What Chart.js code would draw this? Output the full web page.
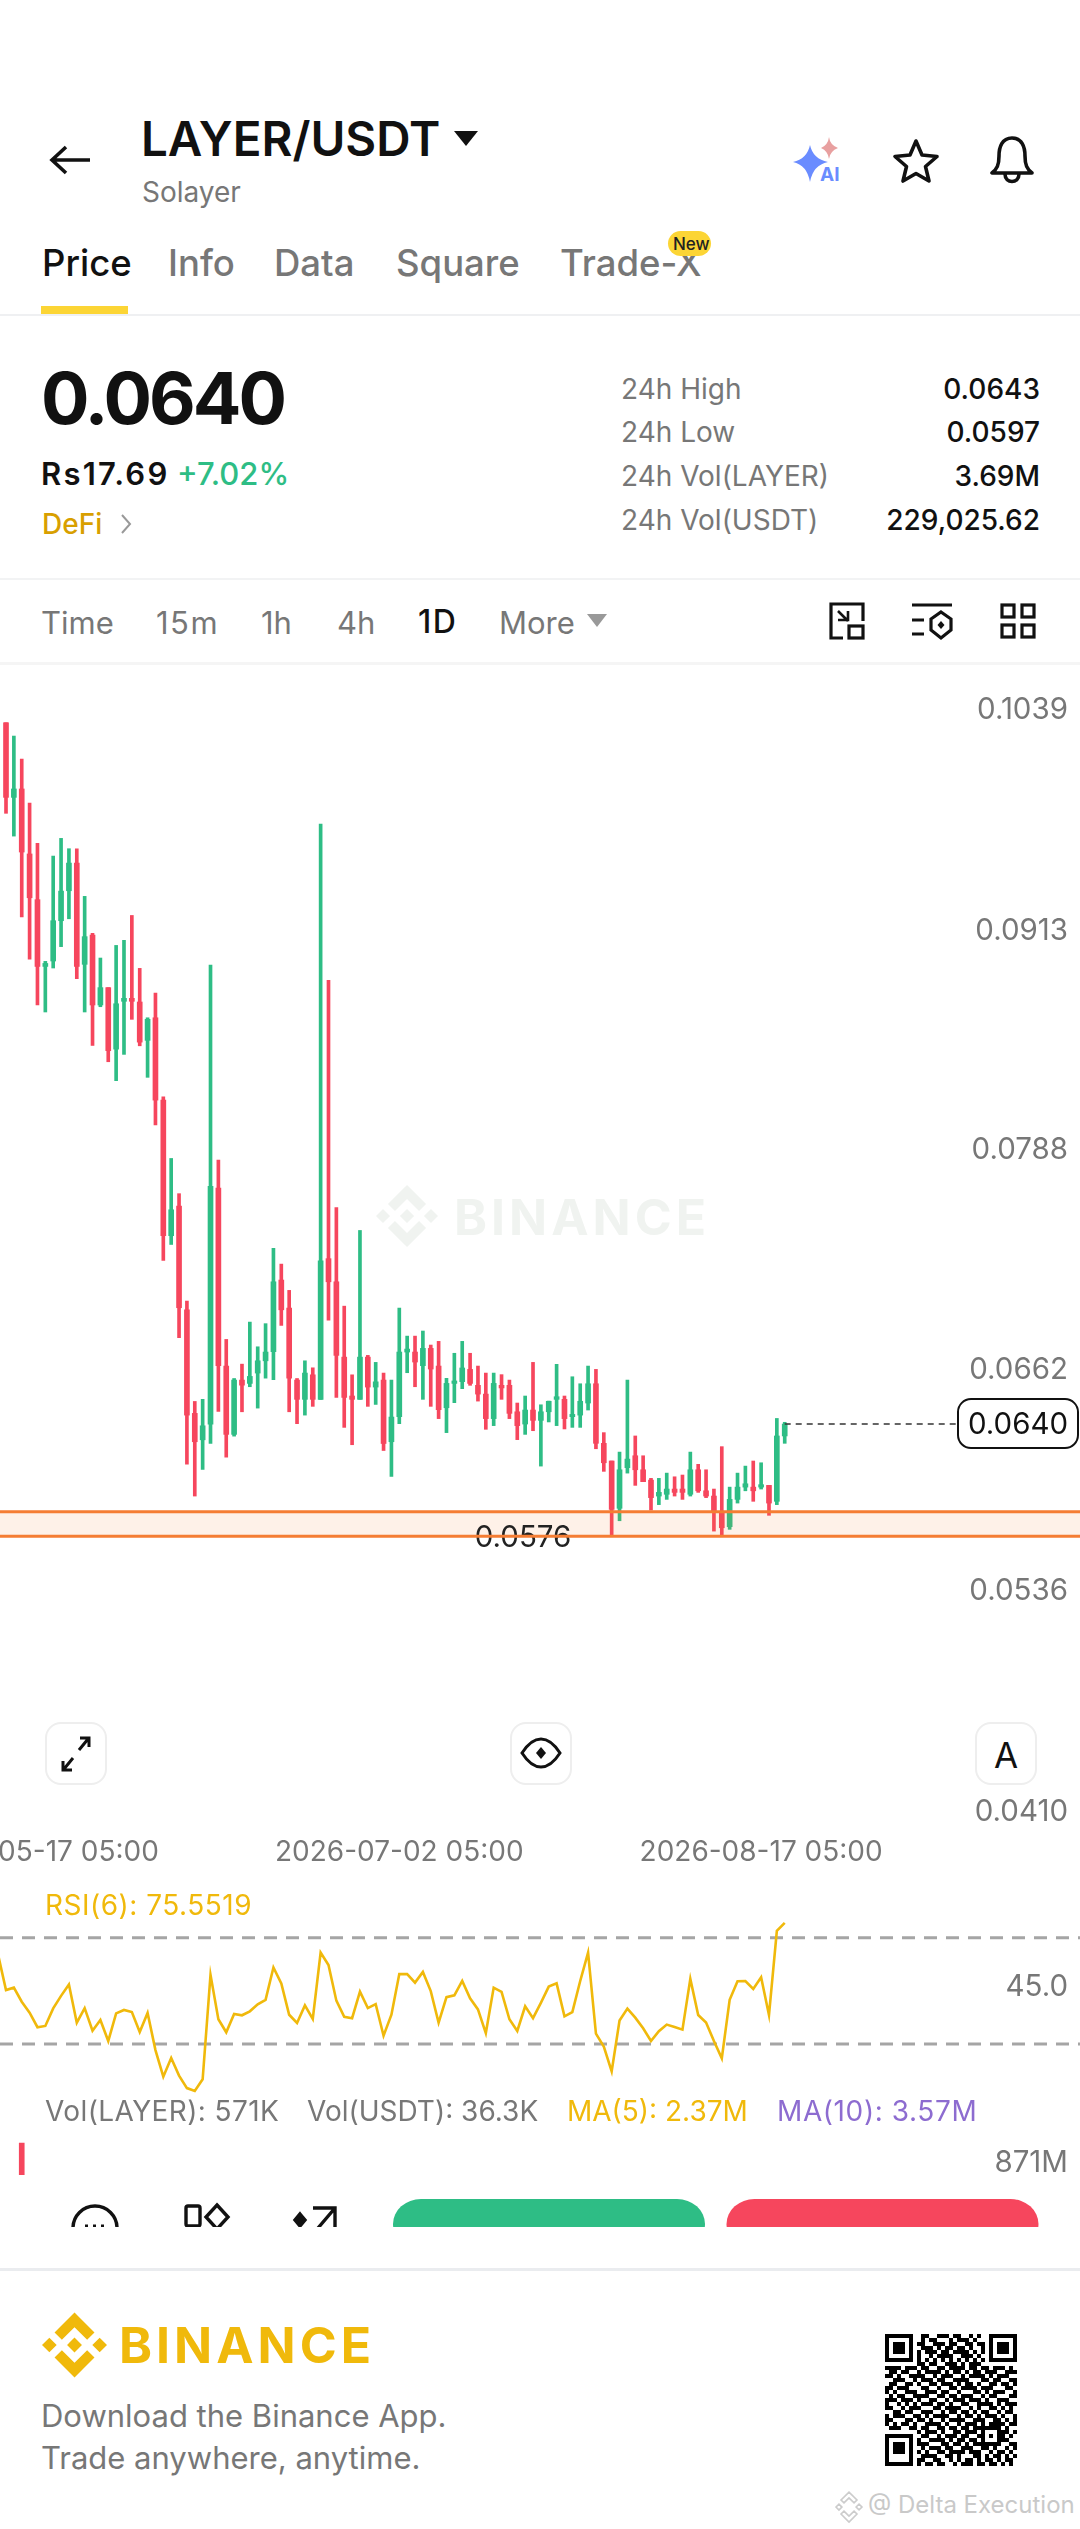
<!DOCTYPE html>
<html>
<head>
<meta charset="utf-8">
<title>LAYER/USDT</title>
<script src="https://cdn.jsdelivr.net/npm/chart.js@4/dist/chart.umd.min.js"></script>
<style>
    html, body { margin: 0; padding: 0; background: #fff; }
    #page { position: relative; width: 1080px; height: 2529px; overflow: hidden; background: #fff; font-family: Inter, sans-serif; color: #1e2329; }
    .t { position: absolute; white-space: nowrap; line-height: 1; transform: translateY(-50%); }
    .grey { color: #777; }
    .rule { position: absolute; left: 0; width: 1080px; }
    canvas { position: absolute; left: 0; }
    svg { position: absolute; overflow: visible; }
    .round-btn { position: absolute; top: 1722px; width: 58px; height: 59px; border: 2px solid #eee; border-radius: 16px; background: #fff; }
</style>
</head>
<body>
<div id="page">
    <!-- header -->
    <svg style="left:49px;top:145px" width="42" height="30" fill="none" stroke="#111" stroke-width="3.6"><path d="M41 15H3M17 2L3 15l14 13"/></svg>
    <div class="t" style="left:141px;top:139px;font-size:47.5px;font-weight:600;color:#111">LAYER/USDT</div>
    <svg style="left:454px;top:131px" width="24" height="16"><path d="M0 0H24L12 15z" fill="#111"/></svg>
    <div class="t grey" style="left:142px;top:192px;font-size:28px">Solayer</div>
    <svg style="left:793px;top:137px" width="52" height="46">
        <path d="M17 8Q20 22 35 25Q20 28 17 45Q14 28 0 25Q14 22 17 8z" fill="#6a8cff"/>
        <path d="M36 0Q37 8 45 11Q37 14 36 22Q35 14 28 11Q35 8 36 0z" fill="#e8a0a0"/>
        <text x="27" y="44" font-family="Inter" font-size="19" font-weight="700" fill="#6a8cff">AI</text>
    </svg>
    <svg style="left:893px;top:138px" width="46" height="44"><path d="M23 3l6 14 15 1.500-11.500 10 3.500 14.500-13-7.500-13 7.500 3.500-14.500-11.500-10 15-1.500z" fill="none" stroke="#111" stroke-width="3.6" stroke-linejoin="round"/></svg>
    <svg style="left:990px;top:136px" width="44" height="48" fill="none" stroke="#111" stroke-width="3.600"><path d="M22 2C12 2 9 11 9 20C9 29 7 33 2 37H42C37 33 35 29 35 20C35 11 32 2 22 2z" stroke-linejoin="round"/><path d="M15 38C15 48 29 48 29 38"/></svg>

    <!-- tabs -->
    <div class="t" style="left:42px;top:263px;font-size:36.500px;font-weight:500;color:#111">Price</div>
    <div class="t grey" style="left:168px;top:263px;font-size:36.500px;font-weight:500">Info</div>
    <div class="t grey" style="left:274px;top:263px;font-size:36.500px;font-weight:500">Data</div>
    <div class="t grey" style="left:396px;top:263px;font-size:36.500px;font-weight:500">Square</div>
    <div class="t grey" style="left:560px;top:263px;font-size:36.500px;font-weight:500">Trade-X</div>
    <div style="position:absolute;left:668px;top:231px;width:43px;height:25px;border-radius:13px;background:#fcd535"></div>
    <div class="t" style="left:673px;top:244px;font-size:17px;font-weight:500;color:#222">New</div>
    <div style="position:absolute;left:41px;top:306px;width:87px;height:8px;background:#fcd535"></div>
    <div class="rule" style="top:314px;height:2px;background:#eff0f2"></div>

    <!-- price summary -->
    <div class="t" style="left:41px;top:398px;font-size:72px;font-weight:700;color:#111;letter-spacing:-3px">0.0640</div>
    <div class="t" style="left:41px;top:473px;font-size:31px;font-weight:600;color:#111;letter-spacing:2.200px">Rs17.69</div>
    <div class="t" style="left:177px;top:473px;font-size:31px;font-weight:500;color:#2ebd85">+7.02%</div>
    <div class="t" style="left:42px;top:524px;font-size:28px;font-weight:500;color:#d89f00">DeFi</div>
    <svg style="left:120px;top:513px" width="12" height="22" fill="none" stroke="#999" stroke-width="2"><path d="M2 2l8 9-8 9"/></svg>
    <div class="t grey" style="left:621px;top:389px;font-size:28px">24h High</div>
    <div class="t grey" style="left:621px;top:432px;font-size:28px">24h Low</div>
    <div class="t grey" style="left:621px;top:476px;font-size:28px">24h Vol(LAYER)</div>
    <div class="t grey" style="left:621px;top:520px;font-size:28px">24h Vol(USDT)</div>
    <div class="t" style="right:40px;top:389px;font-size:28px;font-weight:500;color:#111">0.0643</div>
    <div class="t" style="right:40px;top:432px;font-size:28px;font-weight:500;color:#111">0.0597</div>
    <div class="t" style="right:40px;top:476px;font-size:28px;font-weight:500;color:#111">3.69M</div>
    <div class="t" style="right:40px;top:520px;font-size:28px;font-weight:500;color:#111">229,025.62</div>
    <div class="rule" style="top:578px;height:2px;background:#f2f3f4"></div>

    <!-- interval bar -->
    <div class="t grey" style="left:41px;top:622px;font-size:31px">Time</div>
    <div class="t grey" style="left:156px;top:622px;font-size:31px;letter-spacing:1.500px">15m</div>
    <div class="t grey" style="left:261px;top:622px;font-size:31px">1h</div>
    <div class="t grey" style="left:337px;top:622px;font-size:31px">4h</div>
    <div class="t" style="left:418px;top:622px;font-size:32px;font-weight:500;color:#111;letter-spacing:1.500px">1D</div>
    <div class="t grey" style="left:499px;top:622px;font-size:31px">More</div>
    <svg style="left:587px;top:614px" width="20" height="13"><path d="M0 0H20L10 13z" fill="#999"/></svg>
    <svg style="left:829px;top:602px" width="36" height="38" fill="none" stroke="#111" stroke-width="3.200"><path d="M14 36H2V2H34V19"/><rect x="20" y="24" width="14" height="12"/><path d="M9 9l10 10M9 18h10V9" stroke-width="2.600"/></svg>
    <svg style="left:911px;top:603px" width="42" height="37" fill="none" stroke="#111" stroke-width="3.200"><path d="M1 2H41M1 17H13M1 31H13"/><path d="M30 9l10 7v11l-10 8-10-8V16z"/><path d="M30 18l3.500 4-3.500 4-3.500-4z" fill="#111" stroke="none"/></svg>
    <svg style="left:1000px;top:603px" width="36" height="36" fill="none" stroke="#111" stroke-width="3.200"><rect x="2" y="2" width="12" height="12"/><rect x="22" y="2" width="12" height="12"/><rect x="2" y="22" width="12" height="12"/><rect x="22" y="22" width="12" height="12"/></svg>
    <div class="rule" style="top:662px;height:3px;background:#f5f5f5"></div>

    <!-- watermark, sits under the canvas -->
    <svg style="left:376px;top:1185px" width="62" height="62" viewBox="0 0 126.61 126.61" fill="#f0f3f0"><path d="M38.73 53.2l24.59-24.58 24.6 24.6 14.3-14.31L63.32 0 24.42 38.9zM0 63.31L14.3 49l14.31 14.31-14.3 14.3zM38.73 73.41l24.59 24.59 24.6-24.6 14.31 14.29-38.9 38.91-38.91-38.88-.02-.02zM98 63.31l14.3-14.3 14.31 14.3-14.31 14.31z"/><path d="M77.83 63.3L63.32 48.78 52.59 59.51l-1.24 1.23-2.54 2.54 14.51 14.5 14.51-14.47z"/></svg>
    <div class="t" style="left:454px;top:1217px;font-size:50px;font-weight:700;color:#f0f3f0;letter-spacing:4px">BINANCE</div>

    <canvas id="priceChart" width="1080" height="1207" style="top:663px"></canvas>
    <canvas id="rsiChart" width="1080" height="225" style="top:1870px"></canvas>
    <canvas id="volumeChart" width="1080" height="175" style="top:2125px"></canvas>

    <!-- floating chart buttons -->
    <div class="round-btn" style="left:45px">
        <svg style="left:10px;top:12px" width="38" height="36" fill="none" stroke="#111" stroke-width="3"><path d="M22 14L31 3M23 2h9v9M16 22L7 33M15 34H6v-9"/></svg>
    </div>
    <div class="round-btn" style="left:510px">
        <svg style="left:9px;top:14px" width="40" height="30" fill="none" stroke="#111" stroke-width="3"><path d="M1 15Q10 1 20 1Q30 1 39 15Q30 29 20 29Q10 29 1 15z"/><path d="M20 9l5 6-5 6-5-6z" fill="#111" stroke="none"/></svg>
    </div>
    <div class="round-btn" style="left:975px">
        <div class="t" style="left:17px;top:31px;font-size:35px;color:#111">A</div>
    </div>

    <!-- indicator captions -->
    <div class="t" style="left:45px;top:1905px;font-size:28px;color:#f0b90b;letter-spacing:0.5px">RSI(6): 75.5519</div>
    <div class="t grey" style="left:45px;top:2111px;font-size:28px;letter-spacing:0.4px">Vol(LAYER): 571K</div>
    <div class="t grey" style="left:307px;top:2111px;font-size:28px">Vol(USDT): 36.3K</div>
    <div class="t" style="left:567px;top:2111px;font-size:28px;color:#f0b90b">MA(5): 2.37M</div>
    <div class="t" style="left:777px;top:2111px;font-size:28px;color:#8d6cd0;letter-spacing:0.6px">MA(10): 3.57M</div>

    <!-- bottom panel covers the rest of the volume pane -->
    <div style="position:absolute;left:0;top:2175px;width:1080px;height:354px;background:#fff"></div>
    <svg style="left:0;top:2199px" width="1080" height="28" viewBox="0 2199 1080 28">
        <defs><clipPath id="barClip"><rect x="0" y="2199" width="1080" height="28"/></clipPath></defs>
        <g clip-path="url(#barClip)">
            <g fill="none" stroke="#111" stroke-width="3.400">
                <circle cx="95" cy="2228" r="22"/>
                <rect x="186" y="2206" width="14" height="20" rx="2"/>
                <path d="M217 2205l11 12-11 12-11-12z"/>
                <path d="M300 2214l5 6-5 6-5-6z" fill="#111"/>
                <path d="M313 2208h22v22M335 2208l-17 20"/>
            </g>
            <path d="M85 2226h3M93 2226h3M101 2226h3" stroke="#111" stroke-width="3"/>
            <rect x="393" y="2199" width="312" height="50" rx="28" fill="#2ebd85"/>
            <rect x="726.500" y="2199" width="312" height="50" rx="28" fill="#f6465d"/>
        </g>
    </svg>
    <div class="rule" style="top:2268px;height:3px;background:#eaecef"></div>

    <!-- footer -->
    <svg style="left:42px;top:2312px" width="65" height="66" viewBox="0 0 126.61 126.61" fill="#f0b90b"><path d="M38.73 53.2l24.59-24.58 24.6 24.6 14.3-14.31L63.32 0 24.42 38.9zM0 63.31L14.3 49l14.31 14.31-14.3 14.3zM38.73 73.41l24.59 24.59 24.6-24.6 14.31 14.29-38.9 38.91-38.91-38.88-.02-.02zM98 63.31l14.3-14.3 14.31 14.3-14.31 14.31z"/><path d="M77.83 63.3L63.32 48.78 52.59 59.51l-1.24 1.23-2.54 2.54 14.51 14.5 14.51-14.47z"/></svg>
    <div class="t" style="left:119px;top:2345px;font-size:50px;font-weight:700;color:#f0b90b;letter-spacing:4px">BINANCE</div>
    <div class="t grey" style="left:41px;top:2415px;font-size:31px">Download the Binance App.</div>
    <div class="t grey" style="left:41px;top:2457px;font-size:31px">Trade anywhere, anytime.</div>
    <svg id="qr" style="left:885px;top:2334px" width="132" height="132" viewBox="0 0 33 33" shape-rendering="crispEdges"></svg>
    <svg style="left:836px;top:2490px" width="26" height="34" viewBox="0 0 126.61 166" fill="none" stroke="#ccc" stroke-width="8"><path d="M38.73 63l24.59-24.58 24.6 24.6 14.3-14.31L63.32 10 24.42 48.9zM0 83L14.3 69l14.31 14.31-14.3 14.3zM38.73 103l24.59 24.59 24.6-24.6 14.31 14.29-38.9 38.91-38.91-38.88zM98 83l14.3-14.3 14.31 14.3-14.31 14.31z"/></svg>
    <div class="t" style="left:868px;top:2505px;font-size:24px;color:#c9c9c9">@ Delta Execution</div>
</div>

<script>
// Daily candles, oldest first
const opens = [
    0.10403, 0.09977, 0.10025, 0.09654, 0.09393, 0.09012, 0.09043, 0.09273, 0.09444, 0.09602,
    0.09024, 0.09191, 0.08792, 0.08891, 0.08540, 0.08813, 0.08830, 0.08809, 0.08590, 0.08719,
    0.08249, 0.07475, 0.07644, 0.07052, 0.06461, 0.06310, 0.06400, 0.07747, 0.06731, 0.06341,
    0.06651, 0.06632, 0.06691, 0.06761, 0.06813, 0.07222, 0.07062, 0.06651, 0.06541, 0.06681,
    0.06541, 0.07344, 0.07212, 0.06782, 0.06560, 0.06541, 0.06782, 0.06611, 0.06651, 0.06299,
    0.06442, 0.06811, 0.06811, 0.06733, 0.06832, 0.06731, 0.06493, 0.06632, 0.06642, 0.06712,
    0.06621, 0.06571, 0.06431, 0.06621, 0.06621, 0.06470, 0.06400, 0.06480, 0.06421, 0.06470,
    0.06541, 0.06541, 0.06442, 0.06451, 0.06520, 0.06630, 0.06290, 0.06189, 0.05919, 0.06151,
    0.06219, 0.06139, 0.06080, 0.05989, 0.05999, 0.06029, 0.06029, 0.05999, 0.06139, 0.06019,
    0.05989, 0.05900, 0.05814, 0.05970, 0.06040, 0.06040, 0.06040, 0.06050, 0.05959, 0.06332
];
const closes = [
    0.09977, 0.10025, 0.09665, 0.09404, 0.09012, 0.09029, 0.09273, 0.09442, 0.09602, 0.09012,
    0.09182, 0.08792, 0.08891, 0.08531, 0.08799, 0.08830, 0.08813, 0.08580, 0.08710, 0.08249,
    0.07475, 0.07623, 0.07064, 0.06451, 0.06299, 0.06390, 0.07757, 0.06733, 0.06341, 0.06651,
    0.06622, 0.06672, 0.06761, 0.06811, 0.07212, 0.07052, 0.06662, 0.06541, 0.06691, 0.06541,
    0.07332, 0.07212, 0.06792, 0.06552, 0.06541, 0.06782, 0.06611, 0.06641, 0.06289, 0.06440,
    0.06811, 0.06828, 0.06754, 0.06832, 0.06714, 0.06482, 0.06632, 0.06646, 0.06720, 0.06632,
    0.06571, 0.06431, 0.06632, 0.06606, 0.06461, 0.06391, 0.06480, 0.06421, 0.06470, 0.06530,
    0.06556, 0.06431, 0.06455, 0.06530, 0.06630, 0.06290, 0.06179, 0.05913, 0.06139, 0.06200,
    0.06139, 0.06071, 0.05980, 0.06010, 0.06029, 0.06010, 0.06010, 0.06139, 0.06019, 0.05989,
    0.05900, 0.05808, 0.05970, 0.06040, 0.06059, 0.06019, 0.06054, 0.05949, 0.06332, 0.06400
];
const highs = [
    0.10403, 0.10327, 0.10196, 0.09945, 0.09715, 0.09041, 0.09642, 0.09743, 0.09684, 0.09684,
    0.09412, 0.09201, 0.09060, 0.08891, 0.09132, 0.09161, 0.09303, 0.09001, 0.08719, 0.08860,
    0.08268, 0.07916, 0.07715, 0.07102, 0.06529, 0.06541, 0.09020, 0.07907, 0.06883, 0.06660,
    0.06742, 0.06982, 0.06841, 0.06973, 0.07403, 0.07313, 0.07163, 0.06660, 0.06761, 0.06721,
    0.09825, 0.08933, 0.07635, 0.07073, 0.06681, 0.07505, 0.06792, 0.06752, 0.06691, 0.06651,
    0.07062, 0.06902, 0.06902, 0.06931, 0.06851, 0.06872, 0.06661, 0.06804, 0.06872, 0.06804,
    0.06731, 0.06691, 0.06691, 0.06682, 0.06651, 0.06520, 0.06560, 0.06752, 0.06510, 0.06531,
    0.06741, 0.06560, 0.06670, 0.06630, 0.06731, 0.06712, 0.06351, 0.06189, 0.06240, 0.06651,
    0.06332, 0.06219, 0.06090, 0.06090, 0.06120, 0.06099, 0.06109, 0.06240, 0.06170, 0.06139,
    0.06029, 0.06271, 0.06040, 0.06120, 0.06160, 0.06189, 0.06179, 0.06050, 0.06432, 0.06410
];
const lows = [
    0.09886, 0.09756, 0.09294, 0.09054, 0.08792, 0.08752, 0.09003, 0.09125, 0.09284, 0.08942,
    0.08752, 0.08561, 0.08782, 0.08468, 0.08360, 0.08510, 0.08710, 0.08559, 0.08379, 0.08108,
    0.07334, 0.07425, 0.06893, 0.06171, 0.05989, 0.06141, 0.06289, 0.06472, 0.06211, 0.06331,
    0.06470, 0.06613, 0.06491, 0.06662, 0.06653, 0.06963, 0.06470, 0.06402, 0.06451, 0.06501,
    0.06541, 0.06993, 0.06552, 0.06381, 0.06282, 0.06541, 0.06501, 0.06512, 0.06249, 0.06101,
    0.06402, 0.06693, 0.06613, 0.06541, 0.06501, 0.06431, 0.06351, 0.06522, 0.06602, 0.06621,
    0.06531, 0.06370, 0.06391, 0.06541, 0.06431, 0.06311, 0.06341, 0.06362, 0.06160, 0.06412,
    0.06391, 0.06372, 0.06381, 0.06381, 0.06480, 0.06259, 0.06130, 0.05761, 0.05848, 0.06120,
    0.06050, 0.06071, 0.05909, 0.05940, 0.05970, 0.05989, 0.05970, 0.05989, 0.06010, 0.05980,
    0.05789, 0.05764, 0.05799, 0.05949, 0.06019, 0.05959, 0.06029, 0.05879, 0.05940, 0.06290
];

// RSI(6), first value belongs to the candle just left of the window
const rsiValues = [
    63.5,
    50.3, 51.2, 45.9, 41.8, 36.3, 36.8, 43.4, 48.1, 52.4, 38.0,
    43.5, 35.0, 39.0, 31.1, 41.5, 42.8, 42.0, 34.5, 41.7, 27.7,
    17.7, 24.7, 18.1, 13.4, 12.3, 16.7, 56.0, 39.3, 34.4, 41.3,
    40.8, 42.3, 44.9, 46.6, 58.8, 52.8, 41.0, 37.9, 44.5, 39.4,
    64.4, 59.7, 46.3, 40.2, 39.7, 49.7, 43.5, 45.0, 33.1, 41.0,
    56.3, 56.3, 53.1, 57.1, 49.9, 38.0, 47.6, 48.3, 53.7, 47.2,
    43.0, 34.1, 51.2, 49.6, 39.3, 34.9, 44.2, 39.7, 45.5, 51.6,
    52.8, 40.4, 42.0, 53.7, 64.4, 33.9, 29.0, 19.7, 38.8, 43.3,
    39.9, 35.9, 31.1, 34.8, 37.3, 36.4, 35.4, 54.5, 40.9, 38.1,
    31.1, 24.6, 46.6, 53.6, 53.7, 50.7, 55.1, 40.9, 72.6, 75.55
];
const rsiBands = [70, 30];

// only one volume bar reaches above the bottom panel
const volumeIndex = [2];
const volumeValues = [1159000000];

const priceTicks = [0.1039, 0.0913, 0.0788, 0.0662, 0.0536, 0.0410];
const rsiTicks = [45];
const volumeTicks = [871000000];
const dateTickIndex = [4, 50, 96];
const dateTickLabels = ['2026-05-17 05:00', '2026-07-02 05:00', '2026-08-17 05:00'];

const lastPrice = 0.0640;
const zoneLow = 0.0576;
const zoneHigh = 0.0590;

const GREEN = '#2ebd85';
const RED = '#f6465d';
const AXIS_GREY = '#777';
const FONT = 'Inter, sans-serif';

// the visible window on the shared x scale
const X_MIN = -0.763;
const X_MAX = 136.54;

const candleColors = closes.map((c, i) => (c >= opens[i] ? GREEN : RED));

function sharedX(extra) {
    return Object.assign({
        type: 'linear',
        min: X_MIN,
        max: X_MAX,
        offset: false,
        display: false,
        grid: { display: false, drawTicks: false },
        border: { display: false }
    }, extra);
}

function rightAxis(min, max, ticks, format, labelOffset) {
    return {
        position: 'right',
        min: min,
        max: max,
        grid: { display: false, drawTicks: false },
        border: { display: false },
        afterBuildTicks(scale) { scale.ticks = ticks.map(v => ({ value: v })); },
        afterFit(scale) { scale.width = 0; scale.paddingTop = 0; scale.paddingBottom = 0; },
        ticks: {
            mirror: true,
            padding: -12,
            labelOffset: labelOffset,
            color: AXIS_GREY,
            font: { family: FONT, size: 29.5 },
            callback: format
        }
    };
}

// support zone and last price tag, placed through the chart's own scales
const priceMarks = {
    id: 'priceMarks',
    afterDatasetsDraw(chart) {
        const { ctx, scales: { x, y } } = chart;
        const top = y.getPixelForValue(zoneHigh);
        const bottom = y.getPixelForValue(zoneLow);
        ctx.save();
        ctx.fillStyle = 'rgba(247, 125, 45, 0.11)';
        ctx.fillRect(0, top, 1080, bottom - top);

        ctx.font = '29.5px ' + FONT;
        ctx.textAlign = 'center';
        ctx.textBaseline = 'middle';
        ctx.fillStyle = '#222';
        ctx.fillText(zoneLow.toFixed(4), 523, bottom + 2);

        ctx.strokeStyle = '#f57d33';
        ctx.lineWidth = 3;
        [top, bottom].forEach(p => {
            ctx.beginPath();
            ctx.moveTo(0, p);
            ctx.lineTo(1080, p);
            ctx.stroke();
        });

        const py = y.getPixelForValue(lastPrice);
        ctx.strokeStyle = '#333';
        ctx.lineWidth = 1.5;
        ctx.setLineDash([6, 5]);
        ctx.beginPath();
        ctx.moveTo(x.getPixelForValue(opens.length - 1), py);
        ctx.lineTo(957, py);
        ctx.stroke();
        ctx.setLineDash([]);

        ctx.fillStyle = '#fff';
        ctx.strokeStyle = '#111';
        ctx.lineWidth = 2;
        ctx.beginPath();
        ctx.roundRect(958, py - 25, 120, 49, 13);
        ctx.fill();
        ctx.stroke();
        ctx.fillStyle = '#111';
        ctx.fillText(lastPrice.toFixed(4), 1018, py + 1);
        ctx.restore();
    }
};

new Chart(document.getElementById('priceChart'), {
    type: 'bar',
    data: {
        datasets: [
            {
                label: 'Wick',
                data: highs.map((h, i) => ({ x: i, y: [lows[i], h] })),
                backgroundColor: candleColors,
                barThickness: 3,
                borderWidth: 0,
                grouped: false,
                order: 2
            },
            {
                label: 'Body',
                data: opens.map((o, i) => ({ x: i, y: [o, closes[i]] })),
                backgroundColor: candleColors,
                barThickness: 5,
                borderWidth: 0,
                grouped: false,
                order: 1
            }
        ]
    },
    plugins: [priceMarks],
    options: {
        responsive: false,
        animation: false,
        layout: { padding: 0 },
        plugins: { legend: { display: false }, tooltip: { enabled: false } },
        scales: {
            x: sharedX({
                display: true,
                afterBuildTicks(scale) { scale.ticks = dateTickIndex.map(v => ({ value: v })); },
                afterFit(scale) { scale.height = 43; scale.paddingLeft = 0; scale.paddingRight = 0; },
                ticks: {
                    autoSkip: false,
                    maxRotation: 0,
                    minRotation: 0,
                    padding: 9,
                    color: AXIS_GREY,
                    font: { family: FONT, size: 28 },
                    callback: v => dateTickLabels[dateTickIndex.indexOf(v)]
                }
            }),
            y: rightAxis(0.0410, 0.10744, priceTicks, v => v.toFixed(4), -15)
        }
    }
});

new Chart(document.getElementById('rsiChart'), {
    type: 'line',
    data: {
        datasets: [
            {
                label: 'RSI(6)',
                data: rsiValues.map((v, i) => ({ x: i - 1, y: v })),
                borderColor: '#f0b90b',
                borderWidth: 2.6,
                pointRadius: 0,
                tension: 0
            }
        ].concat(rsiBands.map(b => ({
            label: 'RSI ' + b,
            data: [{ x: X_MIN, y: b }, { x: X_MAX, y: b }],
            borderColor: '#a5a5a5',
            borderWidth: 3,
            borderDash: [13, 9],
            pointRadius: 0
        })))
    },
    options: {
        responsive: false,
        animation: false,
        layout: { padding: 0 },
        plugins: { legend: { display: false }, tooltip: { enabled: false } },
        scales: {
            x: sharedX(),
            y: rightAxis(10.8, 95.47, rsiTicks, v => v.toFixed(1), -17)
        }
    }
});

new Chart(document.getElementById('volumeChart'), {
    type: 'bar',
    data: {
        datasets: [{
            label: 'Volume',
            data: volumeIndex.map((x, i) => ({ x: x, y: volumeValues[i] })),
            backgroundColor: RED,
            barThickness: 5,
            borderWidth: 0
        }]
    },
    options: {
        responsive: false,
        animation: false,
        layout: { padding: 0 },
        plugins: { legend: { display: false }, tooltip: { enabled: false } },
        scales: {
            x: sharedX(),
            y: rightAxis(0, 1291700000, volumeTicks, v => Math.round(v / 1000000) + 'M', -19)
        }
    }
});

// QR code in the footer
const qrRows = [
    '111111100110011101100101001111111',
    '100000100101100010111010001000001',
    '101110101100111011001101101011101',
    '101110100111010110110100101011101',
    '101110101011101101111010101011101',
    '100000101001011110011101001000001',
    '111111101010101010101010101111111',
    '000000001101100111010111000000000',
    '111101110110011011110110110111010',
    '011011001011110101101011011100111',
    '110100111100101110010111101011100',
    '001110010111011001111000110110011',
    '011001101001101110101101001101101',
    '110111000110010011011110111000110',
    '101001110011101100100011010111001',
    '010110011110011011011100101100011',
    '111011101001100101110111010011100',
    '100101010111011010011001111010111',
    '110010111000110111100101001101010',
    '001101100111001011011010110010110',
    '101110011010111100101101011101001',
    '110001101101001011110011100110101',
    '101011010011110100101110101111011',
    '011100110110011011011011111110100',
    '000000001011101001101110100011101',
    '111111100110010111011001101011010',
    '100000101001111010110110100011100',
    '101110101110001101101011111110011',
    '101110100101110110011100110100101',
    '101110101010011011110111001011010',
    '100000100111100110100011010110101',
    '100000101100110010101101011010110',
    '111111101011011001011101101101010'
];
document.getElementById('qr').innerHTML = qrRows.map((row, r) =>
    row.split('').map((c, col) => (c === '1' ? `<rect x="${col}" y="${r}" width="1" height="1"/>` : '')).join('')
).join('');
</script>
</body>
</html>
